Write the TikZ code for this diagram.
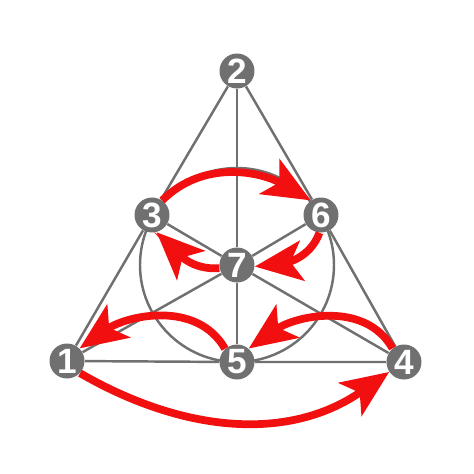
\documentclass[tikz,border=0pt]{standalone}
\usepackage{fontspec}
\setsansfont{Liberation Sans}
\usetikzlibrary{arrows.meta}

\definecolor{fanogray}{HTML}{707070}
\definecolor{fanored}{HTML}{F20F0F}

\tikzset{
    point/.style={circle, fill=fanogray, minimum size=0.7cm, inner sep=0pt,
        text=white, font=\sffamily\bfseries\fontsize{20}{20}\selectfont},
    line/.style={draw=fanogray, line width=1.4pt},
    flow/.style={draw=fanored, line width=4.4pt,
        -{Stealth[length=9.5mm, width=8mm, inset=2.3mm]}}
}

\begin{document}
\begin{tikzpicture}[x=0.02cm, y=-0.02cm]
    \useasboundingbox (0,0) rectangle (474,474);
    \fill[white] (0,0) rectangle (474,474);

    % Kreis
    \coordinate (m) at (237,265);
    \draw[line] (m) circle (97);

    % Punkte
    \node[point] (p2) at (237,71)  {2};
    \node[point] (p3) at (152,215) {3};
    \node[point] (p6) at (321,215) {6};
    \node[point] (p7) at (237,265) {7};
    \node[point] (p1) at (67,361)  {1};
    \node[point] (p5) at (237,362) {5};
    \node[point] (p4) at (404,362) {4};

    % Geraden
    \draw[line] (p1) -- (p3) (p3) -- (p2) (p2) -- (p6) (p6) -- (p4);
    \draw[line] (p1) -- (p5) (p5) -- (p4);
    \draw[line] (p2) -- (p7) (p7) -- (p5);
    \draw[line] (p1) -- (p7) (p7) -- (p6);
    \draw[line] (p4) -- (p7) (p7) -- (p3);

    % Pfeile
    \draw[flow] (p3.55) to[out=45, in=150] (p6.125);
    \draw[flow] (p7.190) to[out=185, in=-44] (p3.-75);
    \draw[flow] (p6.-95) to[out=-110, in=7] (p7.-5);
    \draw[flow] (p5.132) to[out=120, in=35] (p1.45);
    \draw[flow] (p4.130) to[out=120, in=35] (p5.49);
    \draw[flow] (p1.-43) to[out=-30, in=215] (p4.-146);
\end{tikzpicture}
\end{document}
